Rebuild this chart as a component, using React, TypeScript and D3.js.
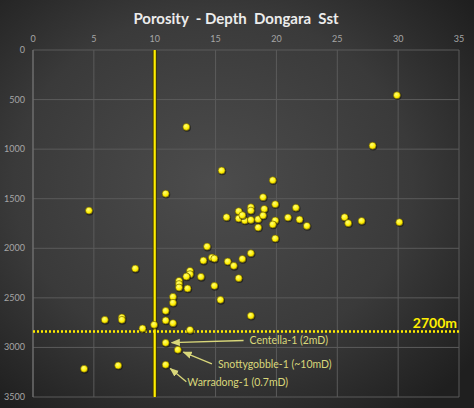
import React from "react";
import * as d3 from "d3";

const porosity = [
  4.6, 10.9, 12.6, 29.9, 27.9, 21.6, 20.95, 21.9, 22.5, 25.6, 25.9, 27.0, 30.1,
  15.5, 19.7, 18.9, 16.9, 17.9, 17.9, 19.0, 19.9, 15.9, 16.9, 17.4, 17.9, 18.5,
  18.9, 17.2, 19.9, 19.7, 18.5, 19.9, 14.3, 17.9, 14.7, 14.9, 14.0, 16.0, 17.2,
  16.5, 8.4, 12.9, 12.9, 12.6, 13.8, 16.9, 12.0, 12.0, 12.0, 12.7, 14.9, 15.4,
  11.5, 11.5, 10.9, 10.9, 11.5, 5.9, 7.3, 7.3, 9.0, 9.95, 12.9, 17.9, 10.9,
  11.9, 10.9, 4.2, 7.0,
];
const depth = [
  1620, 1449, 776, 457, 965, 1590, 1690, 1710, 1774, 1687, 1747, 1724, 1737,
  1216, 1314, 1485, 1626, 1586, 1620, 1603, 1556, 1687, 1700, 1720, 1714, 1707,
  1670, 1667, 1720, 1760, 1791, 1902, 1983, 2050, 2094, 2104, 2124, 2134, 2107,
  2177, 2205, 2228, 2261, 2285, 2288, 2301, 2329, 2361, 2396, 2406, 2379, 2520,
  2490, 2550, 2631, 2728, 2755, 2722, 2698, 2722, 2809, 2772, 2823, 2681, 2954,
  3024, 3175, 3216, 3183,
];

const xTicks = [0, 5, 10, 15, 20, 25, 30, 35];
const yTicks = [0, 500, 1000, 1500, 2000, 2500, 3000, 3500];

const cutoffPorosity = 10;
const cutoffDepth = 2840;
const cutoffLabel = "2700m";

// well annotations: label, the point it points at, where the arrow starts
const wellNames = ["Centella-1 (2mD)", "Snottygobble-1 (~10mD)", "Warradong-1 (0.7mD)"];
const wellPorosity = [10.9, 11.9, 10.9];
const wellDepth = [2954, 3024, 3175];
const labelPorosity = [17.3, 14.7, 12.6];
const labelDepth = [2930, 3165, 3345];

const W = 474;
const H = 408;
const margin = { left: 33, right: 15, top: 50, bottom: 11 };

export default function App() {
  const x = d3.scaleLinear().domain([0, 35]).range([margin.left, W - margin.right]);
  const y = d3.scaleLinear().domain([0, 3500]).range([margin.top, H - margin.bottom]);
  const yellow = "#ffee00";
  const noteColor = "#d9d77a";

  return (
    <svg
      width={W}
      height={H}
      style={{ position: "absolute", left: 0, top: 0, display: "block" }}
      fontFamily="Lato, 'Open Sans', sans-serif"
    >
      <defs>
        <radialGradient id="bg" cx="45%" cy="45%" r="70%">
          <stop offset="0%" stopColor="#4c4c4c" />
          <stop offset="60%" stopColor="#3a3a3a" />
          <stop offset="100%" stopColor="#1f1f1f" />
        </radialGradient>
        <radialGradient id="dot" cx="40%" cy="35%" r="65%">
          <stop offset="0%" stopColor="#ffff7a" />
          <stop offset="70%" stopColor="#ffee00" />
          <stop offset="100%" stopColor="#d8c400" />
        </radialGradient>
        <marker id="arrow" viewBox="0 0 10 10" refX="9" refY="5" markerWidth="7" markerHeight="7" orient="auto">
          <path d="M0,1 L10,5 L0,9 Z" fill={noteColor} />
        </marker>
      </defs>
      <rect width={W} height={H} fill="url(#bg)" />

      <text x={236} y={24} textAnchor="middle" fill="#ececec" fontSize={15} fontWeight="bold" style={{ whiteSpace: "pre" }}>
        {"Porosity  - Depth  Dongara  Sst"}
      </text>

      {/* grid */}
      {xTicks.map((t) => (
        <line key={"gx" + t} x1={x(t)} x2={x(t)} y1={y(0)} y2={y(3500)} stroke="#5b5b5b" strokeWidth={1} />
      ))}
      {yTicks.map((t) => (
        <line key={"gy" + t} x1={x(0)} x2={x(35)} y1={y(t)} y2={y(t)} stroke="#5b5b5b" strokeWidth={1} />
      ))}
      <line x1={x(0)} x2={x(0)} y1={y(0)} y2={y(3500)} stroke="#777" />

      {xTicks.map((t) => (
        <text key={"tx" + t} x={x(t)} y={42} textAnchor="middle" fill="#a6a6a6" fontSize={9}>
          {t}
        </text>
      ))}
      {yTicks.map((t) => (
        <text key={"ty" + t} x={25} y={y(t) + 3} textAnchor="end" fill="#a6a6a6" fontSize={9}>
          {t}
        </text>
      ))}

      {/* cutoffs */}
      <line x1={x(cutoffPorosity)} x2={x(cutoffPorosity)} y1={y(0)} y2={y(3500)} stroke="#3a3500" strokeWidth={4} />
      <line x1={x(cutoffPorosity)} x2={x(cutoffPorosity)} y1={y(0)} y2={y(3500)} stroke={yellow} strokeWidth={2.2} />
      <line
        x1={x(0)}
        x2={x(35)}
        y1={y(cutoffDepth)}
        y2={y(cutoffDepth)}
        stroke={yellow}
        strokeWidth={2.5}
        strokeDasharray="2,2"
      />
      <text x={x(35) - 2} y={y(cutoffDepth) - 4} textAnchor="end" fill={yellow} fontSize={14} fontWeight="bold">
        {cutoffLabel}
      </text>

      {/* points */}
      {porosity.map((p, i) => (
        <g key={"p" + i}>
          <circle cx={x(p) + 0.6} cy={y(depth[i]) + 0.8} r={4} fill="#111" opacity={0.6} />
          <circle cx={x(p)} cy={y(depth[i])} r={3.5} fill="url(#dot)" stroke="#6b5e00" strokeWidth={0.6} />
        </g>
      ))}

      {/* annotations */}
      {wellNames.map((name, i) => {
        const lx = x(labelPorosity[i]);
        const ly = y(labelDepth[i]);
        const px = x(wellPorosity[i]);
        const py = y(wellDepth[i]);
        const ang = Math.atan2(py - ly, px - lx);
        const tx = px - Math.cos(ang) * 6;
        const ty = py - Math.sin(ang) * 6;
        return (
          <g key={"w" + i}>
            <line x1={lx} y1={ly} x2={tx} y2={ty} stroke={noteColor} strokeWidth={1.3} markerEnd="url(#arrow)" />
            <text x={lx + (i === 2 ? 1 : 6)} y={ly + 4} fill={noteColor} fontSize={10.5}>
              {name}
            </text>
          </g>
        );
      })}
    </svg>
  );
}
